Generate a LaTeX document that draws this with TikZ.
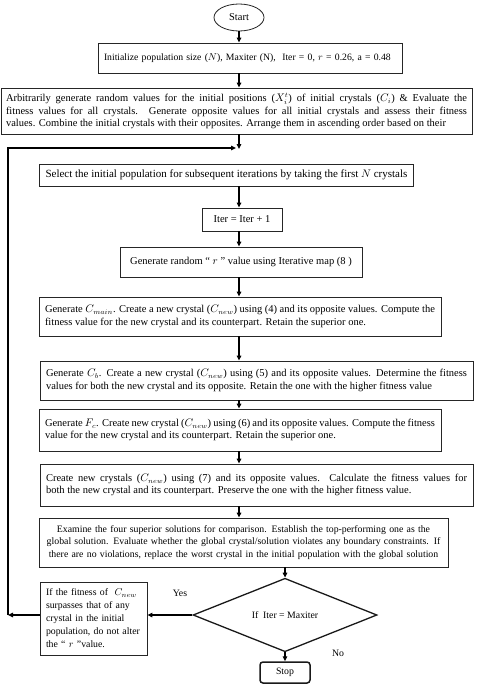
\documentclass[tikz,border=0pt]{standalone}
\usepackage{fontspec}
\setmainfont{Liberation Serif}
\usetikzlibrary{shapes.geometric,arrows.meta}
\newcommand{\fsz}[1]{\fontsize{#1}{12.5}\selectfont}
\tikzset{
  txt/.style={font=\fsz{10.5}},
  box/.style={txt, draw=black!85, line width=0.8pt, inner xsep=6pt, inner ysep=2pt},
  jbox/.style={box, align=justify, text width=#1},
  arr/.style={-{Triangle[length=5pt,width=4.5pt]}, line width=1.3pt},
  loopline/.style={line width=1.6pt},
}
\begin{document}
\begin{tikzpicture}[x=1pt,y=-1pt]
\useasboundingbox (0,0) rectangle (481,685);
\coordinate (col) at (239,0);

\node[ellipse, draw=black!85, line width=0.8pt, txt, minimum width=50pt, minimum height=27pt, inner sep=0pt] (start) at (239,17.5) {Start};

\node[box, font=\fsz{9.7}, align=left, text width=292pt, minimum height=30pt] (init) at (250,58)
  {\mbox{Initialize population size ($N$), Maxiter (N),\ \ Iter = 0, $r$ = 0.26, a = 0.48}};

\node[jbox=461pt, inner xsep=5pt, minimum height=46pt] (box2) at (236.5,111)
  {\parfillskip=0pt Arbitrarily generate random values for the initial positions ($X_i^t$) of initial crystals ($C_i$) \& Evaluate the\linebreak
   fitness values for all crystals. Generate opposite values for all initial crystals and assess their fitness\linebreak
   values. Combine the initial crystals with their opposites. Arrange them in ascending order based on their};

\node[box, font=\fsz{11}, minimum width=373pt, minimum height=22pt] (select) at (226.5,175)
  {Select the initial population for subsequent iterations by taking the first $N$ crystals};

\node[box, minimum width=80pt, minimum height=23pt] (iter) at (242,219.5) {Iter = Iter + 1};

\node[box, minimum width=242pt, minimum height=30pt] (genr) at (241,262)
  {Generate random “ $r$ ” value using Iterative map (8 )};

\node[jbox=390pt, minimum height=39pt] (cmain) at (240,316.5)
  {Generate $C_{main}$. Create a new crystal ($C_{new}$) using (4) and its opposite values. Compute the\linebreak
   fitness value for the new crystal and its counterpart. Retain the superior one.};

\node[jbox=421pt, minimum height=39pt] (cb) at (256.5,380.5)
  {Generate $C_b$. Create a new crystal ($C_{new}$) using (5) and its opposite values. Determine the fitness\linebreak
   values for both the new crystal and its opposite. Retain the one with the higher fitness value};

\node[jbox=390pt, minimum height=42pt] (fc) at (240,430)
  {Generate $F_c$. Create new crystal ($C_{new}$) using (6) and its opposite values. Compute the fitness\linebreak
   value for the new crystal and its counterpart. Retain the superior one.};

\node[jbox=421pt, minimum height=42pt] (create) at (256.5,485)
  {Create new crystals ($C_{new}$) using (7) and its opposite values. Calculate the fitness values for\linebreak
   both the new crystal and its counterpart. Preserve the one with the higher fitness value.};

\node[box, font=\fsz{9.8}, align=center, text width=399pt, inner xsep=5pt, minimum height=49pt] (exam) at (243.5,542.5)
  {Examine the four superior solutions for comparison. Establish the top-performing one as the\\
   global solution. Evaluate whether the global crystal/solution violates any boundary constraints. If\\
   there are no violations, replace the worst crystal in the initial population with the global solution};

\node[diamond, draw=black!90, line width=1.3pt, font=\fsz{9.8}, minimum width=184pt, minimum height=66pt, inner sep=0pt] (dia) at (285,615)
  {If\ \ Iter = Maxiter};

\node[box, font=\fontsize{9.8}{13}\selectfont, align=left, text width=95pt, minimum height=73pt, inner xsep=6pt] (fb) at (93.5,618.5)
  {If the fitness of\ \ $C_{new}$\\ surpasses that of any\\ crystal in the initial\\ population, do not alter\\ the “ $r$ ”value.};

\node[draw=black!90, line width=1.5pt, rounded corners=3pt, font=\fsz{9.8}, minimum width=50pt, minimum height=21pt] (stop) at (285,672.5) {Stop};

\node[font=\fsz{9.8}] (yes) at (180,593) {Yes};
\node[font=\fsz{9.8}] (no) at (338,653) {No};

\coordinate (jn) at (239,149);
\coordinate (lc) at (8,615);
\coordinate (lt) at (8,148);
\coordinate (le) at (236,148);

\draw[arr] (start.south) -- (init.north -| col);
\draw[arr] (init.south -| col) -- (box2.north -| col);
\draw[arr] (box2.south -| col) -- (jn);
\draw[loopline, -{Triangle[length=5pt,width=4.5pt]}] (lc) -- (lt) -- (le);
\draw[arr] (select.south -| col) -- (iter.north -| col);
\draw[arr] (iter.south -| col) -- (genr.north -| col);
\draw[arr] (genr.south -| col) -- (cmain.north -| col);
\draw[arr] (cmain.south -| col) -- (cb.north -| col);
\draw[arr] (cb.south -| col) -- (fc.north -| col);
\draw[arr] (fc.south -| col) -- (create.north -| col);
\draw[arr] (create.south -| col) -- (exam.north -| col);
\draw[arr] (exam.south -| dia) -- (dia.north);
\draw[arr] (dia.south) -- (stop.north);
\draw[arr] (dia.west) -- (dia.west -| fb.east);
\draw[arr] (fb.west |- dia.west) -- (lc);
\end{tikzpicture}
\end{document}
